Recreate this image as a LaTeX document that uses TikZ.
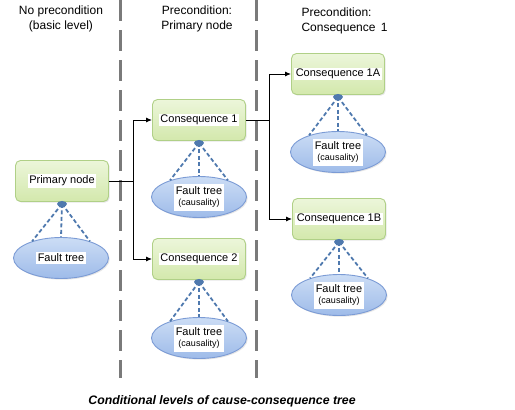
\documentclass[tikz,border=0pt]{standalone}
\usepackage{fontspec}
\setmainfont{Liberation Sans}
\usetikzlibrary{shapes.geometric,arrows.meta,shadows}
\definecolor{boxtop}{HTML}{ECF6DA}
\definecolor{boxbot}{HTML}{D3E8AC}
\definecolor{boxedge}{HTML}{B0D087}
\definecolor{treetop}{HTML}{CCDDF5}
\definecolor{treebot}{HTML}{9EBBE9}
\definecolor{treeedge}{HTML}{7B9BD5}
\definecolor{linkblue}{HTML}{4F79AE}
\definecolor{sepgray}{HTML}{7A7A7A}
\newcommand{\boxlabel}[1]{\setlength{\fboxsep}{1.5pt}\colorbox{white}{#1}}
\newcommand{\treelabel}[1]{\setlength{\fboxsep}{1.5pt}\colorbox{white}{\begin{tabular}{@{}c@{}}Fault tree\\[-2pt]\fontsize{9}{10}\selectfont #1\end{tabular}}}
\begin{document}
\begin{tikzpicture}[x=1pt,y=-1pt,
  consbox/.style={draw=boxedge,line width=0.9pt,top color=boxtop,bottom color=boxbot,
    rounded corners=5pt,minimum width=93pt,minimum height=41pt,inner sep=0pt,
    font=\fontsize{11}{13}\selectfont,
    drop shadow={opacity=0.2,shadow xshift=1.2pt,shadow yshift=-1.2pt}},
  faulttree/.style={ellipse,draw=treeedge,line width=0.9pt,top color=treetop,bottom color=treebot,
    minimum width=95pt,minimum height=41pt,inner sep=0pt,font=\fontsize{11}{13}\selectfont,
    drop shadow={opacity=0.2,shadow xshift=1.2pt,shadow yshift=-1.2pt}},
  header/.style={font=\fontsize{12}{15}\selectfont,align=center},
  conn/.style={line width=1pt,-{Latex[length=6pt,width=5pt]}},
  link/.style={draw=linkblue,line width=1.8pt,dash pattern=on 4pt off 2.5pt},
  sep/.style={draw=sepgray,line width=3pt,dash pattern=on 21pt off 9pt}]
\useasboundingbox (0,0) rectangle (515,410);

\draw[sep] (120,0) -- (120,378);
\draw[sep] (256,0) -- (256,378);

\node[header] (h0) at (61,19) {No precondition\\(basic level)};
\node[header] (h1) at (197,19) {Precondition:\\Primary node};
\node[header,align=left,anchor=north west] (h2) at (298,4) {Precondition:\\Consequence\, 1};

\node[consbox] (prim) at (62,181) {\boxlabel{Primary node}};
\node[consbox] (c1) at (199,120) {\boxlabel{Consequence 1}};
\node[consbox] (c2) at (199,259) {\boxlabel{Consequence 2}};
\node[consbox] (c1a) at (338,74) {\boxlabel{Consequence 1A}};
\node[consbox] (c1b) at (339,219) {\boxlabel{Consequence 1B}};

\node[faulttree] (ft0) at (61,258) {\boxlabel{Fault tree}};
\node[faulttree] (ft1) at (199,197) {\treelabel{(causality)}};
\node[faulttree] (ft2) at (199,338) {\treelabel{(causality)}};
\node[faulttree] (ft1a) at (338,152) {\treelabel{(causality)}};
\node[faulttree] (ft1b) at (339,295) {\treelabel{(causality)}};

\draw[conn] (prim.east) -- ++(25,0) coordinate (j0) |- (c1.west);
\draw[conn] (j0) |- (c2.west);
\draw[conn] (c1.east) -- ++(24,0) coordinate (j1) |- (c1a.west);
\draw[conn] (j1) |- (c1b.west);

\foreach \b/\t in {prim/ft0,c1/ft1,c2/ft2,c1a/ft1a,c1b/ft1b}{
  \coordinate (\b-top) at ([yshift=-2pt]\b.south);
  \draw[link] (\b-top) -- (\t.150);
  \draw[link] (\b-top) -- (\t.north);
  \draw[link] (\b-top) -- (\t.30);
  \fill[linkblue] (\b-top) ellipse (5pt and 3pt);
}

\node[font=\bfseries\itshape\fontsize{12.3}{14}\selectfont] (cap) at (222,401) {Conditional levels of cause-consequence tree};
\end{tikzpicture}
\end{document}
